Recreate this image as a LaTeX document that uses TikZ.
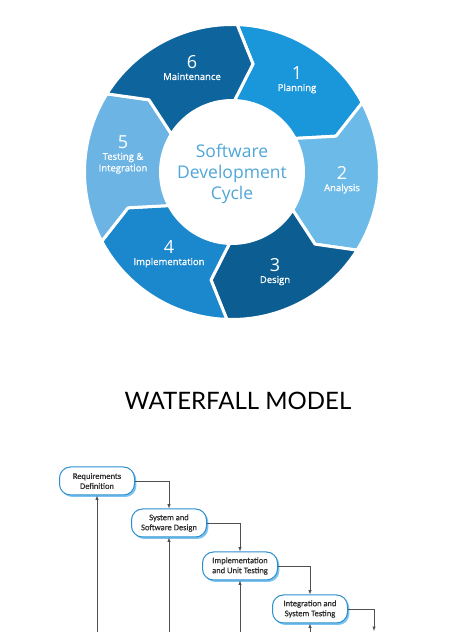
\documentclass[tikz,border=0pt]{standalone}
\usepackage{fontspec}
\setmainfont{Open Sans}
\newfontfamily\labfont[FakeBold=1]{Open Sans}
\newfontfamily\latofont{Lato}
\newfontfamily\boxfont[FakeBold=0.6]{Carlito}
\usetikzlibrary{positioning}
\usetikzlibrary{calc}
\usetikzlibrary{arrows.meta}
\usetikzlibrary{shadows}

\definecolor{segone}{HTML}{1A96DA}
\definecolor{segtwo}{HTML}{6CBAE8}
\definecolor{segthree}{HTML}{0C5E92}
\definecolor{segfour}{HTML}{1B87CC}
\definecolor{segfive}{HTML}{6CB4E4}
\definecolor{segsix}{HTML}{0E649C}
\definecolor{cycletext}{HTML}{4FA6D8}
\definecolor{boxblue}{HTML}{2C8FD0}
\definecolor{boxshadow}{HTML}{7CC3EE}
\definecolor{boxtext}{HTML}{2E2E2E}
\definecolor{linegray}{HTML}{505050}

\tikzset{
  numtext/.style={inner sep=0pt, text=white, font=\fontsize{18}{18}\selectfont},
  labtext/.style={inner sep=0pt, text=white, align=center, font=\labfont\fontsize{9.5}{11.5}\selectfont},
  phase/.style={draw=boxblue, line width=1pt, fill=white, rounded corners=11pt,
    minimum width=75pt, minimum height=28pt, align=center, text=boxtext,
    font=\boxfont\fontsize{8.5}{10}\selectfont,
    drop shadow={shadow xshift=1.8pt, shadow yshift=-2pt, fill=boxshadow, opacity=1}},
  flow/.style={->,-latex, draw=linegray, line width=0.5pt}
}

\begin{document}
\begin{tikzpicture}[x=1pt, y=1pt, text centered]
    \useasboundingbox (0,0) rectangle (474,632);

    % development cycle
    \begin{scope}[shift={(232,460)}]
        \foreach \a/\col in {88/segone, 28/segtwo, -32/segthree, -92/segfour, -152/segfive, 148/segsix}
            \filldraw[fill=\col, draw=white, line width=3pt, line join=round]
                (\a:147.5) arc[start angle=\a, end angle=\a-60, radius=147.5]
                -- ({\a-69}:110) -- ({\a-60}:71.5)
                arc[start angle=\a-60, end angle=\a, radius=71.5]
                -- ({\a-9}:110) -- cycle;

        \foreach \x/\y/\num/\lbl in {65/99/1/Planning, 110/-1/2/Analysis, 43/-93/3/Design,
                                     -63/-75/4/Implementation, -109/30/5/{Testing \&\\Integration},
                                     -40/110/6/Maintenance} {
            \node[numtext] (n\num) at (\x,\y) {\num};
            \node[labtext, below = 4pt of n\num] (l\num) {\lbl};
        }

        \node[text=cycletext, align=center, font=\fontsize{17.5}{21}\selectfont] (cycle) at (0,-2)
            {Software\\Development\\Cycle};
    \end{scope}

    \node[font=\latofont\fontsize{24}{28}\selectfont] (title) at (238,231) {WATERFALL MODEL};

    % waterfall
    \node[phase] (req) at (97,151) {Requirements\\Definition};
    \node[phase, below right = 13pt and -4pt of req] (design) {System and\\Software Design};
    \node[phase, below right = 14pt and -5pt of design] (impl) {Implementation\\and Unit Testing};
    \node[phase, below right = 14pt and -6pt of impl] (integ) {Integration and\\System Testing};

    \coordinate (origin) at (0,0);
    \coordinate (next) at (374,1);

    \draw[flow] (req.east) -| (design.north);
    \draw[flow] (design.east) -| (impl.north);
    \draw[flow] (impl.east) -| (integ.north);
    \draw[flow] (integ.east) -| (next);

    \coordinate (fb1) at (req.south |- origin);
    \coordinate (fb2) at (design.south |- origin);
    \coordinate (fb3) at (impl.south |- origin);
    \coordinate (fb4) at (integ.south |- origin);
    \draw[flow] (fb1) -- (req.south);
    \draw[flow] (fb2) -- (design.south);
    \draw[flow] (fb3) -- (impl.south);
    \draw[flow] (fb4) -- (integ.south);
\end{tikzpicture}
\end{document}
